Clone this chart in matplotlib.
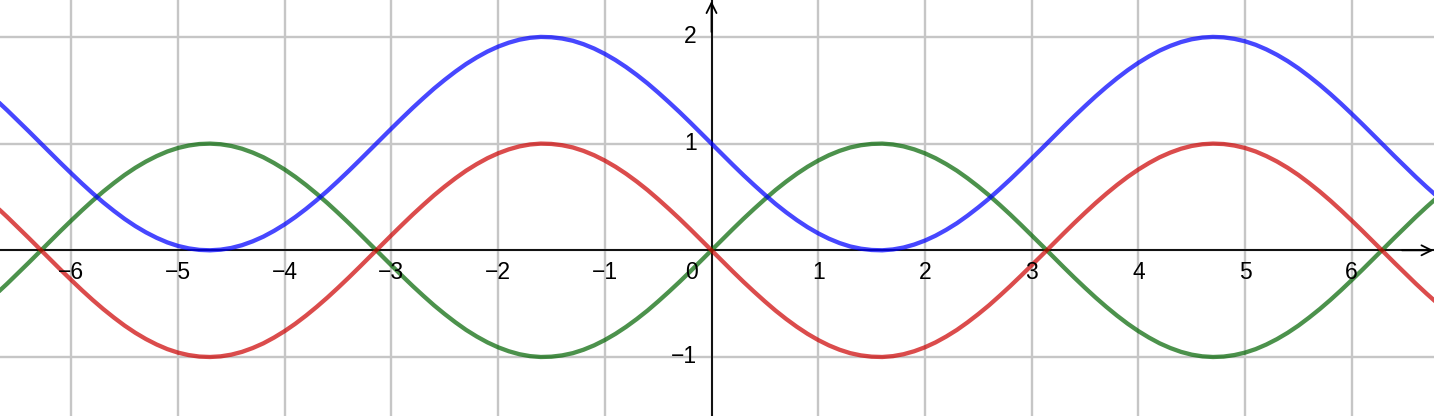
import numpy as np
import matplotlib
matplotlib.use("Agg")
import matplotlib.pyplot as plt

# sample positions along the x axis (step 0.1 from -6.8 to 6.8)
x_vals = [-6.8, -6.7, -6.6, -6.5, -6.4, -6.3, -6.2, -6.1, -6.0, -5.9,
          -5.8, -5.7, -5.6, -5.5, -5.4, -5.3, -5.2, -5.1, -5.0, -4.9,
          -4.8, -4.7, -4.6, -4.5, -4.4, -4.3, -4.2, -4.1, -4.0, -3.9,
          -3.8, -3.7, -3.6, -3.5, -3.4, -3.3, -3.2, -3.1, -3.0, -2.9,
          -2.8, -2.7, -2.6, -2.5, -2.4, -2.3, -2.2, -2.1, -2.0, -1.9,
          -1.8, -1.7, -1.6, -1.5, -1.4, -1.3, -1.2, -1.1, -1.0, -0.9,
          -0.8, -0.7, -0.6, -0.5, -0.4, -0.3, -0.2, -0.1, 0.0,
          0.1, 0.2, 0.3, 0.4, 0.5, 0.6, 0.7, 0.8, 0.9, 1.0,
          1.1, 1.2, 1.3, 1.4, 1.5, 1.6, 1.7, 1.8, 1.9, 2.0,
          2.1, 2.2, 2.3, 2.4, 2.5, 2.6, 2.7, 2.8, 2.9, 3.0,
          3.1, 3.2, 3.3, 3.4, 3.5, 3.6, 3.7, 3.8, 3.9, 4.0,
          4.1, 4.2, 4.3, 4.4, 4.5, 4.6, 4.7, 4.8, 4.9, 5.0,
          5.1, 5.2, 5.3, 5.4, 5.5, 5.6, 5.7, 5.8, 5.9, 6.0,
          6.1, 6.2, 6.3, 6.4, 6.5, 6.6, 6.7, 6.8]

green_vals = [-0.494, -0.405, -0.312, -0.215, -0.117, -0.017, 0.083, 0.182, 0.279, 0.374,
              0.465, 0.551, 0.631, 0.706, 0.773, 0.832, 0.883, 0.926, 0.959, 0.982,
              0.996, 1.000, 0.994, 0.978, 0.952, 0.916, 0.872, 0.818, 0.757, 0.688,
              0.612, 0.530, 0.443, 0.351, 0.256, 0.158, 0.058, -0.042, -0.141, -0.239,
              -0.335, -0.427, -0.516, -0.598, -0.675, -0.746, -0.808, -0.863, -0.909, -0.946,
              -0.974, -0.992, -1.000, -0.997, -0.985, -0.964, -0.932, -0.891, -0.841, -0.783,
              -0.717, -0.644, -0.565, -0.479, -0.389, -0.296, -0.199, -0.100, 0.000,
              0.100, 0.199, 0.296, 0.389, 0.479, 0.565, 0.644, 0.717, 0.783, 0.841,
              0.891, 0.932, 0.964, 0.985, 0.997, 1.000, 0.992, 0.974, 0.946, 0.909,
              0.863, 0.808, 0.746, 0.675, 0.598, 0.516, 0.427, 0.335, 0.239, 0.141,
              0.042, -0.058, -0.158, -0.256, -0.351, -0.443, -0.530, -0.612, -0.688, -0.757,
              -0.818, -0.872, -0.916, -0.952, -0.978, -0.994, -1.000, -0.996, -0.982, -0.959,
              -0.926, -0.883, -0.832, -0.773, -0.706, -0.631, -0.551, -0.465, -0.374, -0.279,
              -0.182, -0.083, 0.017, 0.117, 0.215, 0.312, 0.405, 0.494]

red_vals = [0.494, 0.405, 0.312, 0.215, 0.117, 0.017, -0.083, -0.182, -0.279, -0.374,
            -0.465, -0.551, -0.631, -0.706, -0.773, -0.832, -0.883, -0.926, -0.959, -0.982,
            -0.996, -1.000, -0.994, -0.978, -0.952, -0.916, -0.872, -0.818, -0.757, -0.688,
            -0.612, -0.530, -0.443, -0.351, -0.256, -0.158, -0.058, 0.042, 0.141, 0.239,
            0.335, 0.427, 0.516, 0.598, 0.675, 0.746, 0.808, 0.863, 0.909, 0.946,
            0.974, 0.992, 1.000, 0.997, 0.985, 0.964, 0.932, 0.891, 0.841, 0.783,
            0.717, 0.644, 0.565, 0.479, 0.389, 0.296, 0.199, 0.100, 0.000,
            -0.100, -0.199, -0.296, -0.389, -0.479, -0.565, -0.644, -0.717, -0.783, -0.841,
            -0.891, -0.932, -0.964, -0.985, -0.997, -1.000, -0.992, -0.974, -0.946, -0.909,
            -0.863, -0.808, -0.746, -0.675, -0.598, -0.516, -0.427, -0.335, -0.239, -0.141,
            -0.042, 0.058, 0.158, 0.256, 0.351, 0.443, 0.530, 0.612, 0.688, 0.757,
            0.818, 0.872, 0.916, 0.952, 0.978, 0.994, 1.000, 0.996, 0.982, 0.959,
            0.926, 0.883, 0.832, 0.773, 0.706, 0.631, 0.551, 0.465, 0.374, 0.279,
            0.182, 0.083, -0.017, -0.117, -0.215, -0.312, -0.405, -0.494]

blue_vals = [1.494, 1.405, 1.312, 1.215, 1.117, 1.017, 0.917, 0.818, 0.721, 0.626,
             0.535, 0.449, 0.369, 0.294, 0.227, 0.168, 0.117, 0.074, 0.041, 0.018,
             0.004, 0.000, 0.006, 0.022, 0.048, 0.084, 0.128, 0.182, 0.243, 0.312,
             0.388, 0.470, 0.557, 0.649, 0.744, 0.842, 0.942, 1.042, 1.141, 1.239,
             1.335, 1.427, 1.516, 1.598, 1.675, 1.746, 1.808, 1.863, 1.909, 1.946,
             1.974, 1.992, 2.000, 1.997, 1.985, 1.964, 1.932, 1.891, 1.841, 1.783,
             1.717, 1.644, 1.565, 1.479, 1.389, 1.296, 1.199, 1.100, 1.000,
             0.900, 0.801, 0.704, 0.611, 0.521, 0.435, 0.356, 0.283, 0.217, 0.159,
             0.109, 0.068, 0.036, 0.015, 0.003, 0.000, 0.008, 0.026, 0.054, 0.091,
             0.137, 0.192, 0.254, 0.325, 0.402, 0.484, 0.573, 0.665, 0.761, 0.859,
             0.958, 1.058, 1.158, 1.256, 1.351, 1.443, 1.530, 1.612, 1.688, 1.757,
             1.818, 1.872, 1.916, 1.952, 1.978, 1.994, 2.000, 1.996, 1.982, 1.959,
             1.926, 1.883, 1.832, 1.773, 1.706, 1.631, 1.551, 1.465, 1.374, 1.279,
             1.182, 1.083, 0.983, 0.883, 0.785, 0.688, 0.595, 0.506]

x_ticks = [-6, -5, -4, -3, -2, -1, 1, 2, 3, 4, 5, 6]
y_ticks = [-1, 1, 2]

XMIN, XMAX = -6.668, 6.771
YMIN, YMAX = -1.553, 2.346

plt.rcParams['font.family'] = ['Liberation Sans', 'DejaVu Sans']

fig = plt.figure(figsize=(14.34, 4.16), dpi=100)
ax = fig.add_axes([0, 0, 1, 1])
ax.set_xlim(XMIN, XMAX)
ax.set_ylim(YMIN, YMAX)
for s in ax.spines.values():
    s.set_visible(False)
ax.set_xticks([])
ax.set_yticks([])

grid_color = '#c6c6c6'
for gx in range(-6, 7):
    ax.axvline(gx, color=grid_color, lw=1.7, zorder=0)
for gy in range(-1, 3):
    ax.axhline(gy, color=grid_color, lw=1.7, zorder=0)

# axes
ax.axhline(0, color='black', lw=1.3, zorder=1)
ax.axvline(0, color='black', lw=1.3, zorder=1)
ax.annotate('', xy=(XMAX - 0.005, 0), xytext=(XMAX - 0.3, 0),
            arrowprops=dict(arrowstyle='->', color='black', lw=1.3,
                            mutation_scale=18, shrinkA=0, shrinkB=0), zorder=2)
ax.annotate('', xy=(0, YMAX - 0.01), xytext=(0, YMAX - 0.3),
            arrowprops=dict(arrowstyle='->', color='black', lw=1.3,
                            mutation_scale=18, shrinkA=0, shrinkB=0), zorder=2)

lw = 3.1
ax.plot(x_vals, green_vals, color='#006400', alpha=0.7, lw=lw, zorder=3,
        solid_capstyle='round', solid_joinstyle='round')
ax.plot(x_vals, red_vals, color='#cc0000', alpha=0.7, lw=lw, zorder=3,
        solid_capstyle='round', solid_joinstyle='round')
ax.plot(x_vals, blue_vals, color='#0000ff', alpha=0.72, lw=lw, zorder=3,
        solid_capstyle='round', solid_joinstyle='round')

fs = 16.5
def fmt(v):
    return str(v).replace('-', '\u2212')

for t in x_ticks:
    ax.text(t, -0.21, fmt(t), ha='center', va='center', fontsize=fs, zorder=4)
ax.text(-0.13, -0.21, '0', ha='right', va='center', fontsize=fs, zorder=4)
for t in y_ticks:
    ax.text(-0.14, t, fmt(t), ha='right', va='center', fontsize=fs, zorder=4)

fig.savefig('out.png', dpi=100)
